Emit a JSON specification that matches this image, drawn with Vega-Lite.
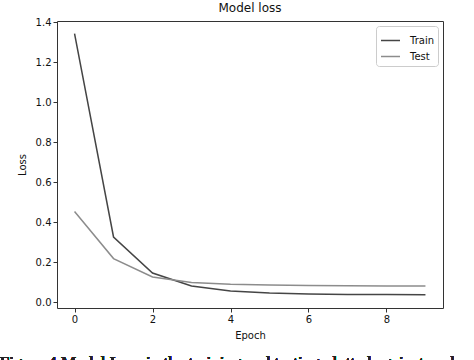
{
  "$schema": "https://vega.github.io/schema/vega-lite/v6.json",
  "autosize": {"type": "none"},
  "width": 386,
  "height": 287,
  "padding": {"left": 57, "top": 21, "right": 31, "bottom": 52},
  "background": "white",
  "title": {"text": "Model loss", "font": "DejaVu Sans", "fontSize": 12, "fontWeight": "normal", "color": "#111", "offset": 2, "anchor": "middle"},
  "config": {
    "view": {"stroke": "#333", "strokeWidth": 1},
    "axis": {"grid": false, "domain": false, "tickColor": "#333", "tickSize": 4, "labelFont": "DejaVu Sans", "labelFontSize": 10, "labelColor": "#111", "titleFont": "DejaVu Sans", "titleFontSize": 10, "titleFontWeight": "normal", "titleColor": "#111"}
  },
  "data": {"values": [
    {"epoch": 0, "series": "Train", "loss": 1.342},
    {"epoch": 1, "series": "Train", "loss": 0.325},
    {"epoch": 2, "series": "Train", "loss": 0.145},
    {"epoch": 3, "series": "Train", "loss": 0.08},
    {"epoch": 4, "series": "Train", "loss": 0.055},
    {"epoch": 5, "series": "Train", "loss": 0.045},
    {"epoch": 6, "series": "Train", "loss": 0.04},
    {"epoch": 7, "series": "Train", "loss": 0.038},
    {"epoch": 8, "series": "Train", "loss": 0.037},
    {"epoch": 9, "series": "Train", "loss": 0.036},
    {"epoch": 0, "series": "Test", "loss": 0.452},
    {"epoch": 1, "series": "Test", "loss": 0.217},
    {"epoch": 2, "series": "Test", "loss": 0.125},
    {"epoch": 3, "series": "Test", "loss": 0.098},
    {"epoch": 4, "series": "Test", "loss": 0.089},
    {"epoch": 5, "series": "Test", "loss": 0.085},
    {"epoch": 6, "series": "Test", "loss": 0.082},
    {"epoch": 7, "series": "Test", "loss": 0.081},
    {"epoch": 8, "series": "Test", "loss": 0.08},
    {"epoch": 9, "series": "Test", "loss": 0.08}
  ]},
  "layer": [
    {
      "mark": {"type": "line", "strokeWidth": 1.5},
      "encoding": {
        "x": {"field": "epoch", "type": "quantitative", "title": "Epoch", "scale": {"domain": [-0.45, 9.45], "nice": false, "zero": false}, "axis": {"values": [0, 2, 4, 6, 8], "format": "d", "titlePadding": 6}},
        "y": {"field": "loss", "type": "quantitative", "title": "Loss", "scale": {"domain": [-0.03, 1.405], "nice": false, "zero": false}, "axis": {"values": [0, 0.2, 0.4, 0.6, 0.8, 1.0, 1.2, 1.4], "format": ".1f", "titlePadding": 8}},
        "color": {"field": "series", "type": "nominal", "scale": {"domain": ["Train", "Test"], "range": ["#454545", "#8c8c8c"]},
          "legend": {"title": null, "orient": "top-right", "offset": 5, "symbolType": "stroke", "symbolSize": 360, "symbolStrokeWidth": 1.5, "labelFont": "DejaVu Sans", "labelFontSize": 10, "labelColor": "#111", "labelOffset": 9, "strokeColor": "#ccc", "fillColor": "white", "padding": 4, "cornerRadius": 3, "rowPadding": 0}}
      }
    },
    {
      "mark": {"type": "text", "align": "left", "baseline": "alphabetic", "font": "Liberation Serif", "fontWeight": "normal", "fontSize": 17, "color": "#222", "text": "Figure 4 Model Loss in the training and testing plotted against each epoch"},
      "encoding": {
        "x": {"datum": -1.92},
        "y": {"datum": -0.33}
      }
    }
  ]
}
